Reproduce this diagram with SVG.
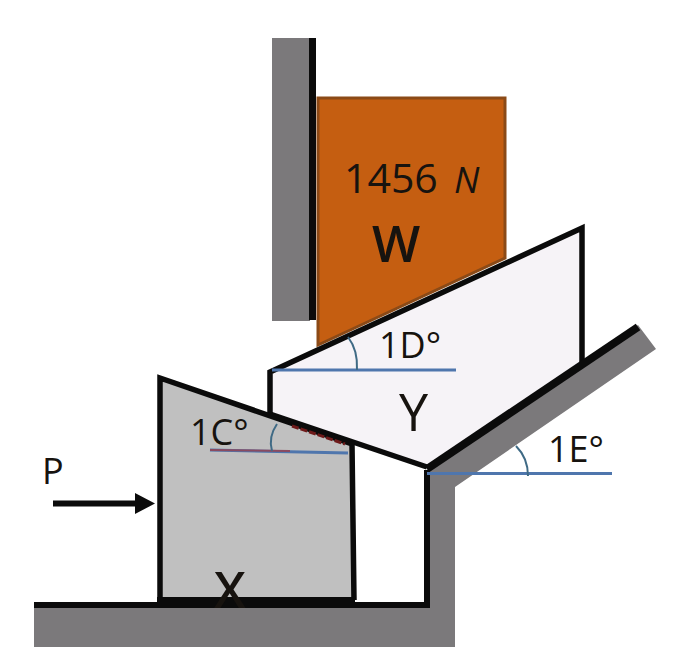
<svg xmlns="http://www.w3.org/2000/svg" width="700" height="665" viewBox="0 0 700 665">
<style>
text{font-family:"Open Sans","Liberation Sans",sans-serif;fill:#17130f}
.g{fill:#7b797b}
.k{fill:none;stroke:#0b0b0b;stroke-linejoin:miter}
.b{fill:none;stroke:#4f76ad;stroke-width:3}
.a{fill:none;stroke:#3f6a85;stroke-width:2}
</style>
<rect width="700" height="665" fill="#fff"/>
<g id="wall">
<rect class="g" x="272" y="38" width="38" height="283"/>
<rect x="309" y="38" width="7" height="282" fill="#0b0b0b"/>
</g>
<g id="block-W">
<path d="M318 98H505V258L318 345Z" fill="#c55e11" stroke="#8b4a17" stroke-width="3"/>
<text x="344" y="193" font-size="41">1456</text>
<text x="454" y="193" font-size="36" font-style="italic">N</text>
<text x="372" y="262" font-size="51" font-weight="600">W</text>
</g>
<g id="wedge-Y">
<path d="M270 372L582 228V364L427 467L270 414Z" fill="#f6f3f7"/>
<path class="k" stroke-width="5.500" d="M270 414V372L582 228V364"/>
<path class="k" stroke-width="5.500" d="M270 414L427 467"/>
<text x="399" y="431" font-size="52" font-weight="500">Y</text>
<text x="379" y="358" font-size="36">1D°</text>
</g>
<g id="ground">
<path class="g" d="M34 606H427V470L638 325L656 349L455 487V647H34Z"/>
<rect x="34" y="602" width="396" height="6" fill="#0b0b0b"/>
<rect x="424" y="470" width="6" height="138" fill="#0b0b0b"/>
<path class="k" stroke-width="8" d="M427 469L638 327"/>
</g>
<g id="wedge-X">
<path d="M160 378L352 445L354 600H160Z" fill="#c0c0c0"/>
<path class="k" stroke-width="5.500" d="M160 600V378L352 444L354 600"/>
<path class="k" stroke-width="10" d="M157 602H355"/>
<path fill="none" stroke="#6e1a1a" stroke-width="3" stroke-dasharray="7 2" d="M292 426L345 444"/>
<text x="214" y="608" font-size="51" font-weight="600">X</text>
<text x="190" y="445" font-size="36">1C°</text>
</g>
<g id="labels">
<text x="42" y="484" font-size="36">P</text>
<text x="548" y="462" font-size="36">1E°</text>
</g>
<g id="connectors">
<path class="b" d="M210 450L348 453"/>
<path fill="none" stroke="#8a4a60" stroke-width="2" d="M210 450L290 451"/>
<path class="a" d="M277 424Q268 437 272 451"/>
<path class="b" d="M272 370H456"/>
<path class="a" d="M348 337Q358 350 357 370"/>
<path class="b" d="M427 473.500H612"/>
<path class="a" d="M516 446Q528 458 528 476"/>
<path d="M53 500.500H135V493L155 503.500L135 514V506.500H53Z" fill="#0b0b0b"/>
</g>
</svg>
